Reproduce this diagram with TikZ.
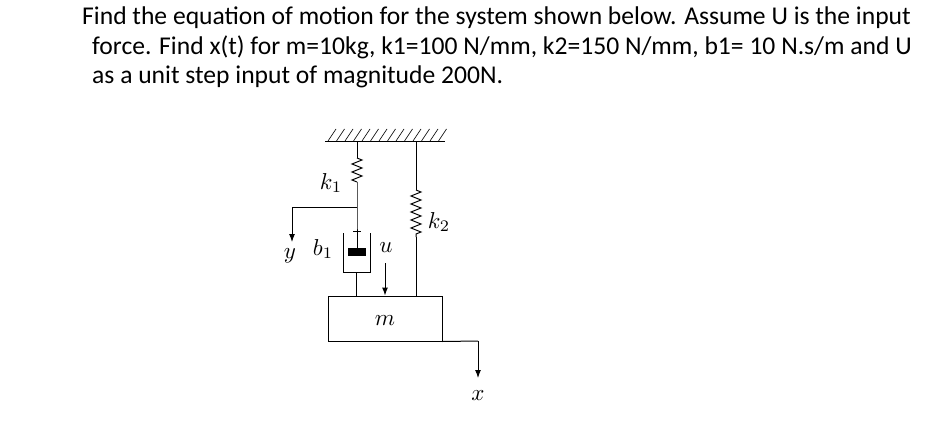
\documentclass[tikz,border=0pt]{standalone}
\usepackage{fontspec}
\usepackage{graphicx}
\setmainfont{Carlito}
\usetikzlibrary{decorations.pathmorphing,arrows.meta}
\newcommand{\lbl}[1]{\scalebox{2.3}{$#1$}}
\begin{document}
\begin{tikzpicture}[x=1pt,y=-1pt,
  ln/.style={line width=1pt},
  spr/.style={line width=1pt,decorate,decoration={zigzag,segment length=8pt,amplitude=5pt}},
  arr/.style={ln,-{Latex[length=8pt,width=6pt]}},
  txt/.style={anchor=west,font=\fontsize{25.6}{30}\selectfont,inner sep=0pt}]
\useasboundingbox (0,0) rectangle (932,434);
\node[txt] (t1) at (82,18) {Find the equation of motion for the system shown below. Assume U is the input};
\node[txt] (t2) at (92,47) {force. Find x(t) for m=10kg, k1=100 N/mm, k2=150 N/mm, b1= 10 N.s/m and U};
\node[txt] (t3) at (92,77) {as a unit step input of magnitude 200N.};
% ceiling
\draw[ln] (325,141) -- (445,141);
\foreach \i in {0,...,13} \draw[line width=0.6pt] (328+8.5*\i,141) -- (336+8.5*\i,129);
% mass
\node[draw,ln,minimum width=114pt,minimum height=45pt,inner sep=0pt] (m) at (385,318.5) {};
\node (ml) at (385,321) {\lbl{m}};
% k1 branch
\coordinate (c1) at (357,141);
\coordinate (s1a) at (357,158);
\coordinate (s1b) at (357,182);
\coordinate (j) at (357,207);
\coordinate (p) at (357,252);
\draw[ln] (c1) -- (s1a);
\draw[spr] (s1a) -- (s1b);
\draw[ln] (s1b) -- (j) -- (p);
\node (k1) at (331,183) {\lbl{k_1}};
% y
\coordinate (yc) at (292,207);
\coordinate (ye) at (292,242);
\draw[ln] (j) -- (yc);
\draw[arr] (yc) -- (ye);
\node (yl) at (290,256) {\lbl{y}};
% dashpot
\draw[ln] (343,233) -- (343,272) -- (370,272) -- (370,233);
\draw[ln] (353,231) -- (361,231);
\fill (348,248) rectangle (366,256);
\draw[ln] (356.5,272) -- (356.5,296);
\node (b1) at (323,249) {\lbl{b_1}};
% k2
\coordinate (c2) at (416,141);
\coordinate (s2a) at (416,190);
\coordinate (s2b) at (416,237);
\draw[ln] (c2) -- (s2a);
\draw[spr] (s2a) -- (s2b);
\draw[ln] (s2b) -- (416,296);
\node (k2) at (439,222) {\lbl{k_2}};
% u
\coordinate (u0) at (385,263);
\draw[arr] (u0) -- (m.north -| u0);
\node (ul) at (386,248) {\lbl{u}};
% x
\coordinate (xc) at (478,341);
\draw[ln] (m.south east) -- (xc);
\draw[arr] (xc) -- (478,378);
\node (xl) at (478,396) {\lbl{x}};
\end{tikzpicture}
\end{document}
